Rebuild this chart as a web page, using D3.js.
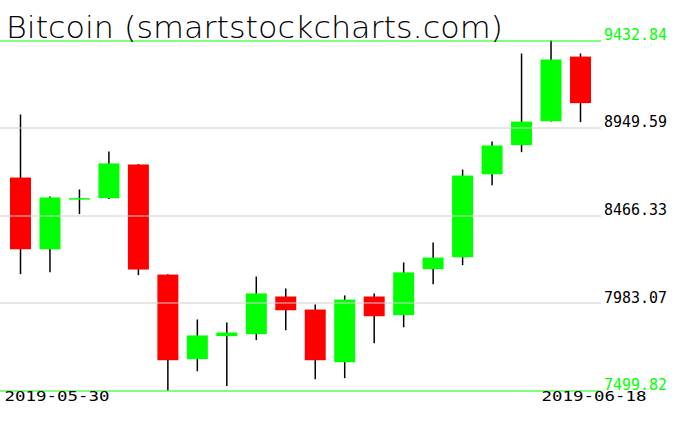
<!DOCTYPE html>
<html><head><meta charset="utf-8">
<script src="https://cdn.jsdelivr.net/npm/d3@7"></script>
<style>html,body{margin:0;padding:0;background:#fff;}svg{display:block;}</style>
</head><body>
<svg id="chart" width="676" height="431"></svg>
<script>
const title = "Bitcoin (smartstockcharts.com)";
const dates = ["2019-05-30","2019-05-31","2019-06-01","2019-06-02","2019-06-03","2019-06-04","2019-06-05","2019-06-06","2019-06-07","2019-06-08","2019-06-09","2019-06-10","2019-06-11","2019-06-12","2019-06-13","2019-06-14","2019-06-15","2019-06-16","2019-06-17","2019-06-18"];
const open  = [8676,8280,8556,8562,8748,8140,7673,7800,7811,8019,7947,7656,8019,7916,8170,8236,8694,8855,8987,9344];
const high  = [9024,8571,8610,8820,8750,8142,7892,7875,8129,8063,7975,8025,8036,8207,8317,8720,8875,9361,9432.84,9361];
const low   = [8142,8153,8474,8558,8137,7499.82,7606,7524,7778,7833,7562,7568,7761,7849,8087,8192,8634,8816,8985,8982];
const close = [8280,8566,8560,8754,8168,7667,7804,7820,8036,7943,7667,8002,7910,8152,8234,8687,8853,8985,9328,9087];
const priceTicks = [9432.84, 8949.59, 8466.33, 7983.07, 7499.82];
const dateLabels = ["2019-05-30", "2019-06-18"];

const data = dates.map((d,i)=>({date:d,o:open[i],h:high[i],l:low[i],c:close[i]}));
const svg = d3.select("#chart");
const lineEnd = 601;
const x = d3.scalePoint().domain(dates).range([20.5, 580.5]);
const y = d3.scaleLinear().domain([7499.82, 9432.84]).range([390.5, 40.5]);
const bw = x.step() * 0.712;

const GREEN = "#00ff00", RED = "#ff0000";

// wicks
svg.append("g").selectAll("line").data(data).join("line")
  .attr("x1", d=>x(d.date)).attr("x2", d=>x(d.date))
  .attr("y1", d=>y(d.h)).attr("y2", d=>y(d.l))
  .attr("stroke", "#000").attr("stroke-width", 1.5);

// bodies
svg.append("g").selectAll("rect").data(data).join("rect")
  .attr("x", d=>x(d.date) - bw/2).attr("width", bw)
  .attr("y", d=>{const t=y(Math.max(d.o,d.c)), b=y(Math.min(d.o,d.c)); return (b-t)<1.5 ? (t+b)/2-0.75 : t;})
  .attr("height", d=>Math.max(1.5, y(Math.min(d.o,d.c)) - y(Math.max(d.o,d.c))))
  .attr("fill", d=> d.c >= d.o ? GREEN : RED);

// grid lines
const yAxis = d3.axisRight(y).tickValues(priceTicks).tickSize(0).tickFormat(d3.format(".2f"));
svg.append("g").selectAll("line").data(priceTicks).join("line")
  .attr("x1", 0).attr("x2", lineEnd)
  .attr("y1", d=>Math.round(y(d))).attr("y2", d=>Math.round(y(d)))
  .attr("stroke", (d,i)=> (i===0||i===priceTicks.length-1) ? GREEN : "#d0d0d0")
  .attr("stroke-width", 1.2);

// price labels
const ax = svg.append("g").attr("transform", `translate(${lineEnd+3},0)`).call(yAxis);
ax.select(".domain").remove();
ax.selectAll(".tick").attr("transform", null);
ax.selectAll("text")
  .attr("x", 0).attr("y", d=>y(d) - 0.5).attr("dy", 0)
  .attr("text-anchor", "start")
  .attr("font-family", "DejaVu Sans Mono").attr("font-size", 15)
  .attr("fill", (d,i)=> (i===0||i===priceTicks.length-1) ? GREEN : "#000")
  .attr("textLength", 63).attr("lengthAdjust", "spacingAndGlyphs");

// date labels
svg.append("g").selectAll("text").data(dateLabels).join("text")
  .attr("x", (d,i)=> i===0 ? 4.5 : 541.5)
  .attr("y", 401)
  .attr("font-family", "DejaVu Sans Mono").attr("font-size", 14)
  .attr("fill", "#000")
  .attr("textLength", 105).attr("lengthAdjust", "spacingAndGlyphs")
  .text(d=>d);

// title
svg.append("text")
  .attr("x", 6).attr("y", 37.5)
  .attr("font-family", "'DejaVu Sans ExtraLight', 'DejaVu Sans'").attr("font-weight", 200)
  .attr("font-size", 30)
  .attr("fill", "#000")
  .attr("textLength", 497).attr("lengthAdjust", "spacingAndGlyphs")
  .text(title);
</script>
</body></html>
